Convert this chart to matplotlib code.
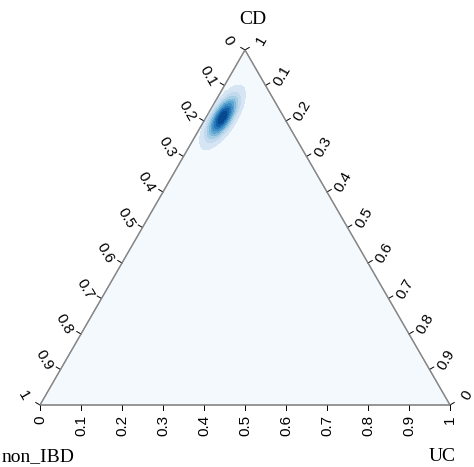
import numpy as np
import matplotlib
matplotlib.use("Agg")
import matplotlib.pyplot as plt
from matplotlib.path import Path as MPath
from matplotlib.patches import Polygon

# ---- data ----
vertex_labels = ["non_IBD", "UC", "CD"]
tick_values = [0.0, 0.1, 0.2, 0.3, 0.4, 0.5, 0.6, 0.7, 0.8, 0.9, 1.0]
bottom_labels = ["0", "0.1", "0.2", "0.3", "0.4", "0.5", "0.6", "0.7", "0.8", "0.9", "1"]
left_labels = ["0", "0.1", "0.2", "0.3", "0.4", "0.5", "0.6", "0.7", "0.8", "0.9", "1"]
right_labels = ["1", "0.1", "0.2", "0.3", "0.4", "0.5", "0.6", "0.7", "0.8", "0.9", "0"]
# density blob: centre composition (non_IBD, UC, CD) and spread
blob_center = (0.15, 0.04, 0.81)
blob_sigma_major = 0.036
blob_sigma_minor = 0.014
blob_angle_deg = 58

H = np.sqrt(3) / 2
fig = plt.figure(figsize=(4.74, 4.67), dpi=100)
ax = fig.add_axes([0, 0, 1, 1])
ax.set_xlim(-40 / 410, 1 + 24 / 410)
ax.set_ylim(-62 / 410, (467 - 62) / 410)
ax.axis("off")

tri = np.array([[0, 0], [1, 0], [0.5, H]])
ax.add_patch(Polygon(tri, closed=True, facecolor="#f4f9fe", edgecolor="#888888", lw=0.9, zorder=1))

# density
cx = blob_center[1] + blob_center[2] / 2
cy = blob_center[2] * H
xs = np.linspace(0, 1, 400)
ys = np.linspace(0, H, 400)
X, Y = np.meshgrid(xs, ys)
a = np.deg2rad(blob_angle_deg)
u = (X - cx) * np.cos(a) + (Y - cy) * np.sin(a)
v = -(X - cx) * np.sin(a) + (Y - cy) * np.cos(a)
Z = np.exp(-0.5 * ((u / blob_sigma_major) ** 2 + (v / blob_sigma_minor) ** 2))
inside = MPath(tri).contains_points(np.c_[X.ravel(), Y.ravel()]).reshape(X.shape)
Z = np.ma.masked_where(~inside | (Z < 0.04), Z)
ax.contourf(X, Y, Z, levels=np.linspace(0.04, 1.0, 10), cmap="Blues", vmin=-0.1, vmax=1.05, zorder=2)
ax.add_patch(Polygon(tri, closed=True, facecolor="none", edgecolor="#888888", lw=0.9, zorder=3))

tl = 0.012
off = 0.047
tkw = dict(fontsize=11, family="Liberation Sans", color="black")
for t, lb_b, lb_l, lb_r in zip(tick_values, bottom_labels, left_labels, right_labels):
    # bottom
    ax.plot([t, t], [0, -tl], color="black", lw=0.7)
    ax.text(t, -0.025, lb_b, rotation=90, ha="center", va="top", **tkw)
    # left edge, 0 at top -> 1 at bottom
    px, py = 0.5 - 0.5 * t, H * (1 - t)
    nx, ny = -np.sqrt(3) / 2, 0.5
    ax.plot([px, px + nx * tl], [py, py + ny * tl], color="black", lw=0.7)
    ax.text(px + nx * off, py + ny * off, lb_l, rotation=-60, ha="center", va="center", **tkw)
    # right edge, top -> bottom
    px, py = 0.5 + 0.5 * t, H * (1 - t)
    nx, ny = np.sqrt(3) / 2, 0.5
    ax.plot([px, px + nx * tl], [py, py + ny * tl], color="black", lw=0.7)
    ax.text(px + nx * off, py + ny * off, lb_r, rotation=60, ha="center", va="center", **tkw)

lkw = dict(fontsize=14, family="Liberation Serif", color="black")
ax.text(-40 / 410 + 0.003, -0.125, vertex_labels[0], ha="left", va="center", **lkw)
ax.text(0.98, -0.125, vertex_labels[1], ha="center", va="center", **lkw)
ax.text(0.52, H + 0.075, vertex_labels[2], ha="center", va="center", **lkw)

fig.savefig("out.png", dpi=100)
